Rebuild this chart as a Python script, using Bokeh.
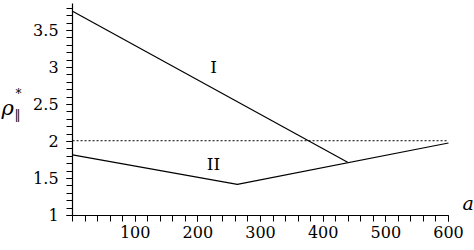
from bokeh.plotting import figure
from bokeh.models import FixedTicker, Label, Range1d, LinearAxis
from bokeh.embed import file_html
from bokeh.resources import INLINE

# Data
a_I = [0, 439]
rho_I = [3.76, 1.72]
a_II = [0, 263, 600]
rho_II = [1.82, 1.42, 1.98]
a_ref = [0, 600]
rho_ref = [2.01, 2.01]

x_ticks = [100, 200, 300, 400, 500, 600]
x_minor = [0, 20, 40, 60, 80, 100, 120, 140, 160, 180, 200, 220, 240, 260, 280, 300,
           320, 340, 360, 380, 400, 420, 440, 460, 480, 500, 520, 540, 560, 580, 600]
y_ticks = [1, 1.5, 2, 2.5, 3, 3.5]
y_tick_labels = ["1", "1.5", "2", "2.5", "3", "3.5"]
y_minor = [1.0, 1.1, 1.2, 1.3, 1.4, 1.5, 1.6, 1.7, 1.8, 1.9, 2.0, 2.1, 2.2, 2.3, 2.4, 2.5,
           2.6, 2.7, 2.8, 2.9, 3.0, 3.1, 3.2, 3.3, 3.4, 3.5, 3.6, 3.7, 3.8]

FONT = "DejaVu Serif"

p = figure(width=474, height=250, output_backend="svg", toolbar_location=None,
           x_axis_type=None, y_axis_type=None,
           x_range=Range1d(-115, 641.5), y_range=Range1d(0.527, 3.905),
           min_border=0)
p.outline_line_color = None
p.background_fill_color = "white"
p.border_fill_color = "white"

p.line(a_ref, rho_ref, line_color="black", line_width=1, line_dash="2 2")
p.line(a_I, rho_I, line_color="black", line_width=1.2)
p.line(a_II, rho_II, line_color="black", line_width=1.2)

xax = LinearAxis(fixed_location=1, bounds=(0, 600),
                 ticker=FixedTicker(ticks=x_ticks, minor_ticks=x_minor))
yax = LinearAxis(fixed_location=0, bounds=(1, 3.86),
                 ticker=FixedTicker(ticks=y_ticks, minor_ticks=y_minor))
yax.major_label_overrides = {t: s for t, s in zip(y_ticks, y_tick_labels)}
for ax in (xax, yax):
    ax.axis_line_color = "black"
    ax.axis_line_width = 1.2
    ax.major_tick_in = 0
    ax.major_tick_out = 6
    ax.minor_tick_in = 0
    ax.minor_tick_out = 6
    ax.major_tick_line_color = "black"
    ax.minor_tick_line_color = "black"
    ax.major_label_text_font = FONT
    ax.major_label_text_font_size = "16px"
    ax.major_label_text_color = "black"
xax.major_label_standoff = 5
yax.major_label_standoff = 8
p.add_layout(xax, "below")
p.add_layout(yax, "left")

p.add_layout(Label(x=225, y=3.01, text="I", text_font=FONT, text_font_size="17px",
                   text_color="black", text_align="center", text_baseline="middle"))
p.add_layout(Label(x=225, y=1.69, text="II", text_font=FONT, text_font_size="17px",
                   text_color="black", text_align="center", text_baseline="middle"))
p.add_layout(Label(x=600, y=1, x_offset=14, y_offset=1, text="a", text_font=FONT,
                   text_font_style="italic", text_font_size="19px", text_color="black",
                   text_align="left", text_baseline="bottom"))

# y axis label rho_||^*
p.add_layout(Label(x=1, y=143, x_units="screen", y_units="screen", text="ρ",
                   text_font=FONT, text_font_style="italic", text_font_size="21px",
                   text_color="black", text_align="left", text_baseline="middle"))
p.add_layout(Label(x=14, y=136, x_units="screen", y_units="screen", text="‖",
                   text_font=FONT, text_font_size="12px", text_color="black",
                   text_align="left", text_baseline="middle"))
p.add_layout(Label(x=15, y=157, x_units="screen", y_units="screen", text="*",
                   text_font=FONT, text_font_size="12px", text_color="black",
                   text_align="left", text_baseline="middle"))

open("out.html", "w").write(file_html(p, INLINE))
